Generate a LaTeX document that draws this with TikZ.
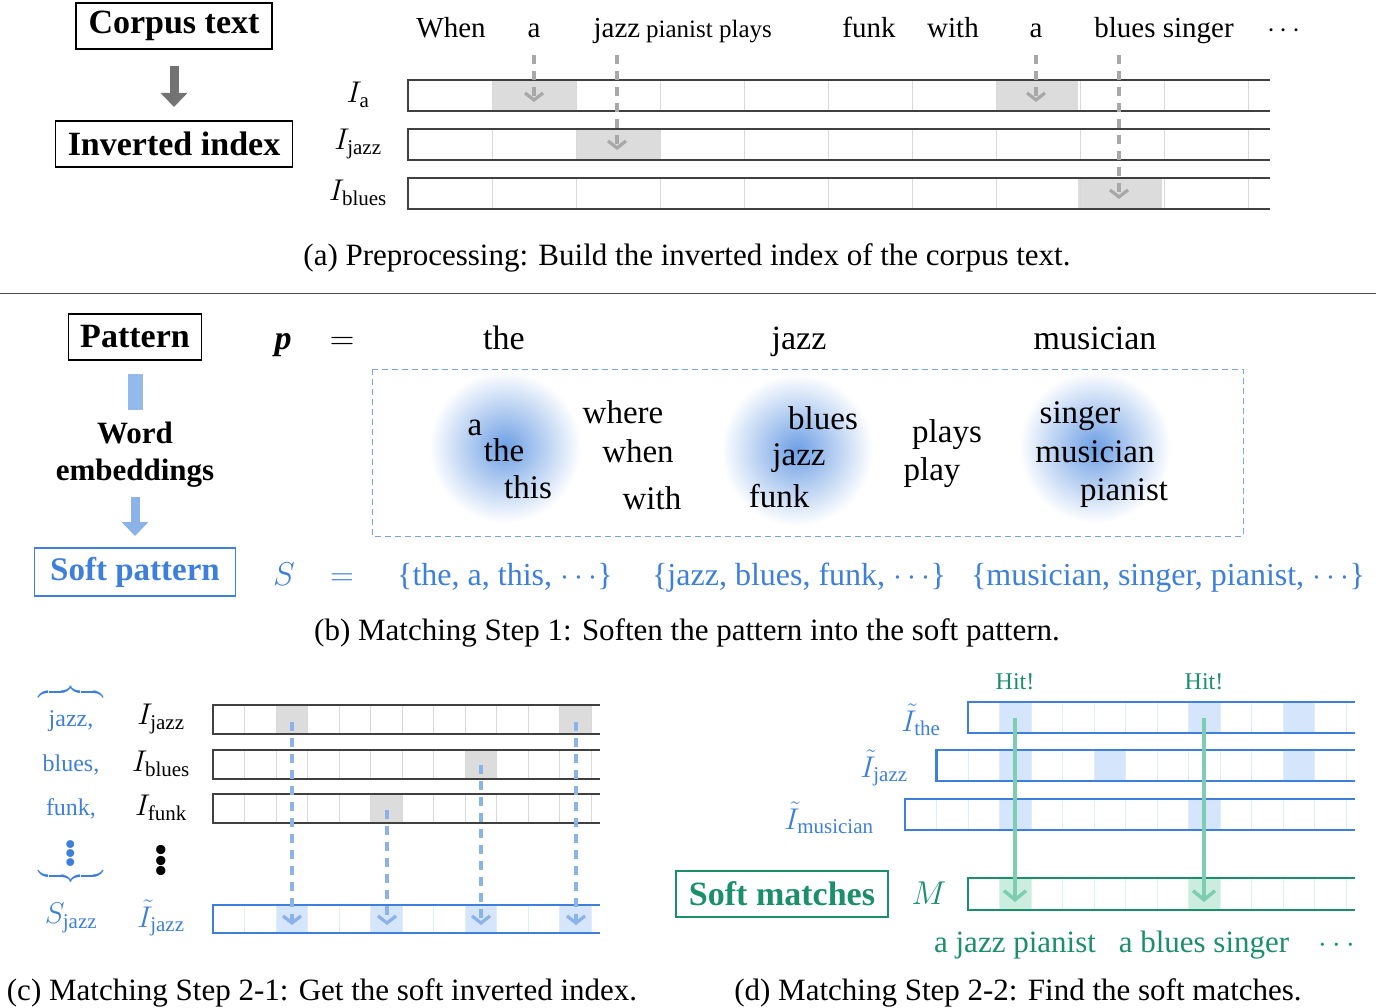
\documentclass[tikz,border=0pt]{standalone}
\usepackage{fix-cm}
\usepackage{fontspec}
\setmainfont{Liberation Serif}
\usetikzlibrary{arrows.meta}
\definecolor{bl}{HTML}{3D7FDB}
\definecolor{lbl}{HTML}{D5E5FB}
\definecolor{gbl}{HTML}{E1ECFB}
\definecolor{gr}{HTML}{1B9068}
\definecolor{lgr}{HTML}{7FCDB0}
\definecolor{fgr}{HTML}{CBEDDF}
\definecolor{ggr}{HTML}{DDF2EA}
\definecolor{gy}{HTML}{DCDCDC}
\definecolor{dgy}{HTML}{A8A8A8}
\newcommand\fs[1]{\fontsize{#1}{#1}\selectfont}
\begin{document}
\begin{tikzpicture}[x=1pt,y=-1pt,
 w/.style={font=\fs{31}, inner sep=0pt, anchor=base},
 lab/.style={font=\fs{34}\bfseries, draw, line width=1.3pt, inner sep=0pt, minimum height=46pt},
 mth/.style={font=\fs{30}, inner sep=0pt},
 frame/.style={line width=1.1pt, draw=black!75},
 bframe/.style={line width=2.2pt, draw=bl},
 gframe/.style={line width=2.2pt, draw=gr},
 grid/.style={draw=black!15, line width=0.6pt},
 gdash/.style={draw=dgy, line width=3.2pt, dash pattern=on 9pt off 7pt, -{Straight Barb[length=7pt,width=18pt]}},
 bdash/.style={draw=bl!60, line width=3.2pt, dash pattern=on 9pt off 7pt, -{Straight Barb[length=7pt,width=18pt]}},
 garr/.style={draw=lgr, line width=3.5pt, -{Straight Barb[length=9pt,width=22pt]}},
 bigarr/.style={line width=9pt, -{Triangle[length=14pt,width=26pt]}},
]
\useasboundingbox (0,0) rectangle (1376,1008);
% ===== (a)
\node[lab, minimum width=196pt] (corpus) at (174,26) {Corpus text};
\node[lab, minimum width=237pt] (inv) at (174,144) {Inverted index};
\coordinate (ca) at (174,66); \coordinate (cb) at (174,107);
\draw[bigarr, draw=black!55, fill=black!55] (ca) -- (cb);
\foreach \t/\x [count=\i] in {When/451,a/534,jazz/617,funk/869,with/953,a/1036,blues singer/1164,$\cdots$/1284}
  \node[w, font=\fs{29}] (tw\i) at (\x,38) {\t};
\node[w, font=\fs{25}] (twp) at (709,38) {pianist plays};
\fill[gy] (492,80) rectangle (576,111);
\fill[gy] (996,80) rectangle (1078,111);
\fill[gy] (576,129) rectangle (660,160);
\fill[gy] (1078,178) rectangle (1162,210);
\foreach \y in {80,129,178}{
  \foreach \k in {1,...,10} \draw[grid] (408+84*\k,\y) -- (408+84*\k,\y+31);
  \draw[frame] (1270,\y) -- (408,\y) -- (408,\y+31) -- (1270,\y+31);
}
\node[mth] (la) at (358,95) {$I_{\mathrm{a}}$};
\node[mth] (lj) at (358,144) {$I_{\mathrm{jazz}}$};
\node[mth] (lb) at (358,193) {$I_{\mathrm{blues}}$};
\coordinate (a1) at (534,55); \coordinate (a1e) at (534,102);
\coordinate (a2) at (617,55); \coordinate (a2e) at (617,150);
\coordinate (a3) at (1036,55); \coordinate (a3e) at (1036,102);
\coordinate (a4) at (1119,55); \coordinate (a4e) at (1119,199);
\foreach \s/\e in {a1/a1e,a2/a2e,a3/a3e,a4/a4e} \draw[gdash] (\s) -- (\e);
\node[w] (capa) at (687,266) {(a) Preprocessing: Build the inverted index of the corpus text.};
\draw[black!70, line width=1pt] (0,294) -- (1376,294);
% ===== (b)
\node[lab, minimum width=133pt] (pat) at (135,337) {Pattern};
\fill[bl!55] (128,374) rectangle (143,410);
\node[font=\fs{31}\bfseries, align=center] (we) at (135,455) {Word\\[6pt]embeddings};
\coordinate (wa) at (135,497); \coordinate (wb) at (135,536);
\draw[bigarr, draw=bl!60, fill=bl!60] (wa) -- (wb);
\node[lab, draw=bl, text=bl, minimum width=201pt, minimum height=48pt, font=\fs{33}\bfseries] (sp) at (135,572) {Soft pattern};
\node[w, font=\fs{34}\bfseries\itshape] (pp) at (283,349) {p};
\node[w, font=\fs{34}] (eq1) at (342,349) {$=$};
\node[w, font=\fs{34}] (p1) at (504,349) {the};
\node[w, font=\fs{34}] (p2) at (799,349) {jazz};
\node[w, font=\fs{34}] (p3) at (1095,349) {musician};
\draw[bl!70, line width=1pt, dash pattern=on 6pt off 4pt] (372,369) rectangle (1243,536);
\foreach \cx/\cy in {505/447,797/450,1095/447}
  \shade[inner color=bl!75, outer color=white] (\cx,\cy) circle (76);
\foreach \t/\x/\y [count=\i] in {a/475/435,the/504/461,this/528/498,where/623/423,when/638/462,with/652/509,blues/823/429,jazz/799/465,funk/779/507,plays/947/442,play/932/480,singer/1080/423,musician/1095/462,pianist/1124/500}
  \node[w, font=\fs{33}] (e\i) at (\x,\y) {\t};
\node[w, text=bl, font=\fs{33}] (ss) at (284,585) {$S$};
\node[w, text=bl, font=\fs{33}] (eq2) at (342,585) {$=$};
\node[w, text=bl, font=\fs{32}] (s1) at (505,585) {\{the, a, this, $\cdots$\}};
\node[w, text=bl, font=\fs{32}] (s2) at (799,585) {\{jazz, blues, funk, $\cdots$\}};
\node[w, text=bl, font=\fs{32}] (s3) at (1168,585) {\{musician, singer, pianist, $\cdots$\}};
\node[w] (capb) at (687,640) {(b) Matching Step 1: Soften the pattern into the soft pattern.};
% ===== (c)
\node[mth, text=bl] (ob) at (71,692) {\scalebox{2.2}{$\overbrace{\hphantom{ja}}$}};
\node[w, font=\fs{24}, text=bl] (cj) at (71,726) {jazz,};
\node[w, font=\fs{24}, text=bl] (cb2) at (71,771) {blues,};
\node[w, font=\fs{24}, text=bl] (cf) at (71,815) {funk,};
\node[mth, text=bl] (cv) at (71,847) {\scalebox{2.2}{$\vdots$}};
\node[mth, text=bl] (ub) at (71,876) {\scalebox{2.2}{$\underbrace{\hphantom{ja}}$}};
\node[mth, text=bl] (csj) at (71,918) {$S_{\mathrm{jazz}}$};
\node[mth] (ci1) at (161,719) {$I_{\mathrm{jazz}}$};
\node[mth] (ci2) at (161,764) {$I_{\mathrm{blues}}$};
\node[mth] (ci3) at (161,808) {$I_{\mathrm{funk}}$};
\node[mth] (ci4) at (161,853) {\scalebox{2.6}{$\vdots$}};
\node[mth, text=bl] (ci5) at (161,918) {$\tilde I_{\mathrm{jazz}}$};
\fill[gy] (276,705) rectangle (308,734);
\fill[gy] (560,705) rectangle (592,734);
\fill[gy] (465,750) rectangle (497,779);
\fill[gy] (371,794) rectangle (403,823);
\foreach \k in {2,5,8,11} \fill[lbl] (213+31.5*\k,905) rectangle (213+31.5*\k+31.5,933);
\foreach \y in {705,750,794}{
  \foreach \k in {1,...,12} \draw[grid] (213+31.5*\k,\y) -- (213+31.5*\k,\y+29);
  \draw[frame] (600,\y) -- (213,\y) -- (213,\y+29) -- (600,\y+29);
}
\foreach \k in {1,...,12} \draw[draw=gbl, line width=0.8pt] (213+31.5*\k,905) -- (213+31.5*\k,933);
\draw[bframe] (600,905) -- (213,905) -- (213,933) -- (600,933);
\coordinate (c1) at (292,722); \coordinate (c1e) at (292,925);
\coordinate (c2) at (387,810); \coordinate (c2e) at (387,925);
\coordinate (c3) at (481,765); \coordinate (c3e) at (481,925);
\coordinate (c4) at (576,722); \coordinate (c4e) at (576,925);
\foreach \s/\e in {c1/c1e,c2/c2e,c3/c3e,c4/c4e} \draw[bdash] (\s) -- (\e);
\node[w] (capc) at (322,1000) {(c) Matching Step 2-1: Get the soft inverted index.};
% ===== (d)
\node[w, font=\fs{24}, text=gr] (h1) at (1015,689) {Hit!};
\node[w, font=\fs{24}, text=gr] (h2) at (1204,689) {Hit!};
\node[mth, text=bl] (dl1) at (921,720) {$\tilde I_{\mathrm{the}}$};
\node[mth, text=bl] (dl2) at (884,768) {$\tilde I_{\mathrm{jazz}}$};
\node[mth, text=bl] (dl3) at (829,818) {$\tilde I_{\mathrm{musician}}$};
\foreach \k in {1,7,10} \fill[lbl] (968+31.5*\k,702) rectangle (999.5+31.5*\k,733);
\foreach \k in {1,4,10} \fill[lbl] (968+31.5*\k,750) rectangle (999.5+31.5*\k,781);
\foreach \k in {1,7} \fill[lbl] (968+31.5*\k,799) rectangle (999.5+31.5*\k,831);
\foreach \k in {1,7} \fill[fgr] (968+31.5*\k,878) rectangle (999.5+31.5*\k,910);
\foreach \x/\y/\n in {968/702/12,936.5/750/13,905/799/14}{
  \foreach \k in {1,...,\n} \draw[draw=gbl, line width=0.8pt] (\x+31.5*\k,\y) -- (\x+31.5*\k,\y+31);
  \draw[bframe] (1355,\y) -- (\x,\y) -- (\x,\y+31) -- (1355,\y+31);
}
\foreach \k in {1,...,12} \draw[draw=ggr, line width=0.8pt] (968+31.5*\k,878) -- (968+31.5*\k,910);
\draw[gframe] (1355,878) -- (968,878) -- (968,910) -- (1355,910);
\node[lab, draw=gr, text=gr, minimum width=212pt] (sm) at (782,894) {Soft matches};
\node[mth, text=gr, font=\fs{33}] (mm) at (929,893) {$M$};
\coordinate (g1) at (1015,718); \coordinate (g1e) at (1015,902);
\coordinate (g2) at (1204,718); \coordinate (g2e) at (1204,902);
\draw[garr] (g1) -- (g1e);
\draw[garr] (g2) -- (g2e);
\node[w, text=gr] (m1) at (1015,952) {a jazz pianist};
\node[w, text=gr] (m2) at (1204,952) {a blues singer};
\node[w, text=gr] (m3) at (1337,952) {$\cdots$};
\node[w] (capd) at (1018,1000) {(d) Matching Step 2-2: Find the soft matches.};
\end{tikzpicture}
\end{document}
